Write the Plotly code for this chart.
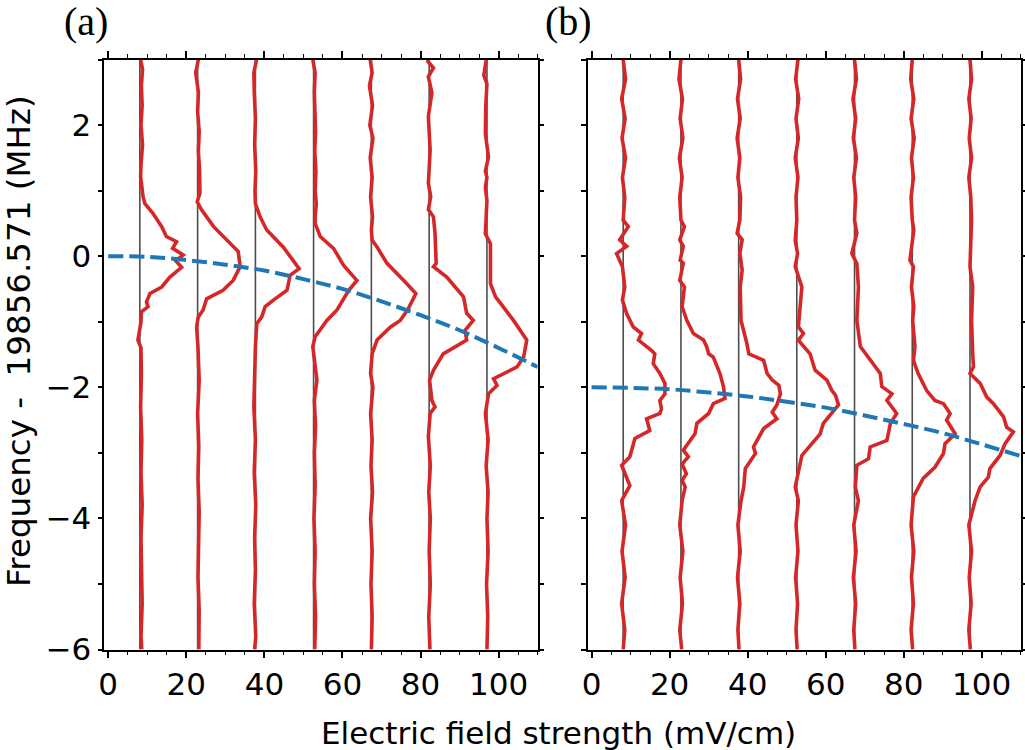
import plotly.graph_objects as go

# ---------------- data ----------------
field_offsets = [8.1, 22.9, 37.7, 52.6, 67.4, 82.2, 97.0]   # mV/cm (baselines of the spectra)

# Panel (a): spectra as (frequency, horizontal deflection) pairs
a1_f = [3.0, 2.85, 2.6, 2.3, 2.0, 1.7, 1.4, 1.21, 0.9, 0.80, 0.65, 0.45, 0.30, 0.22, 0.12, 0.02, -0.07, -0.17, -0.32, -0.47, -0.57, -0.70, -0.77, -0.85, -1.0, -1.28, -1.4, -1.8, -2.3, -2.8, -3.3, -3.8, -4.3, -4.8, -5.3, -5.8, -6.0]
a1_x = [0.2, 0.7, 0.4, 0.6, 0.3, 0.7, 0.3, 0.2, 0.85, 1.3, 3.4, 5.6, 6.8, 9.4, 8.4, 11.1, 9.2, 10.7, 7.7, 5.6, 2.6, 1.7, 2.1, 0.4, 0.3, -0.5, 0.3, 0.4, 0.2, 0.5, 0.3, 0.6, 0.3, 0.4, 0.6, 0.3, 0.5]
a2_f = [3.0, 2.8, 2.5, 2.2, 1.9, 1.6, 1.3, 0.96, 0.83, 0.70, 0.45, 0.24, 0.07, -0.16, -0.37, -0.52, -0.65, -0.82, -0.93, -1.08, -1.4, -1.9, -2.4, -2.9, -3.4, -3.9, -4.4, -4.9, -5.4, -5.9, -6.0]
a2_x = [0.2, -0.5, 0.2, 0.0, 0.4, 0.2, 0.5, 0.6, -0.1, 1.1, 4.1, 7.5, 10.4, 10.9, 9.1, 6.5, 2.3, 1.4, 0.15, -0.25, 0.1, 0.4, 0.0, 0.3, 0.1, 0.4, 0.2, 0.1, 0.4, 0.2, 0.3]
a3_f = [3.0, 2.8, 2.5, 2.1, 1.7, 1.3, 1.0, 0.80, 0.60, 0.40, 0.14, -0.19, -0.29, -0.52, -0.67, -0.77, -0.93, -1.03, -1.38, -1.8, -2.3, -2.8, -3.3, -3.8, -4.3, -4.8, -5.3, -5.8, -6.0]
a3_x = [0.3, -0.4, -0.3, 0.0, -0.2, 0.1, -0.1, 0.0, 1.2, 2.9, 7.1, 11.2, 8.9, 8.1, 4.6, 2.5, 1.6, 0.35, 0.0, -0.2, -0.4, 0.0, -0.3, 0.1, -0.2, 0.0, -0.3, 0.1, -0.2]
a4_f = [3.0, 2.8, 2.5, 2.2, 1.9, 1.6, 1.3, 1.0, 0.8, 0.60, 0.50, 0.30, 0.12, -0.14, -0.37, -0.52, -0.82, -0.98, -1.23, -1.38, -1.6, -1.89, -2.2, -2.6, -3.0, -3.5, -4.0, -4.5, -5.0, -5.5, -6.0]
a4_x = [-0.2, 0.4, 0.2, 0.3, 0.5, 0.3, 0.6, 0.4, 0.7, 0.4, 0.4, 1.7, 5.1, 7.7, 11.1, 9.0, 6.0, 3.4, 0.4, -0.2, 0.3, 0.85, 0.2, 0.5, 0.2, 0.4, 0.1, 0.4, 0.2, 0.5, 0.3]
a5_f = [3.0, 2.8, 2.6, 2.3, 2.0, 1.8, 1.5, 1.2, 0.9, 0.6, 0.4, 0.24, 0.14, -0.11, -0.37, -0.57, -0.82, -0.98, -1.08, -1.28, -1.49, -1.79, -2.0, -2.4, -2.8, -3.2, -3.6, -4.0, -4.5, -5.0, -5.5, -6.0]
a5_x = [-0.3, 0.2, -0.5, 0.3, -0.4, 0.4, -0.3, 0.2, -0.2, 0.3, 0.0, 0.2, 1.45, 4.0, 8.3, 11.4, 9.3, 7.4, 4.9, 1.45, 0.2, -0.2, 0.4, -0.2, 0.2, -0.1, 0.3, -0.2, 0.2, -0.1, 0.2, 0.0]
a6_f = [2.99, 2.87, 2.74, 2.49, 2.13, 1.62, 1.11, 0.91, 0.71, 0.60, 0.35, -0.11, -0.16, -0.32, -0.62, -0.87, -0.98, -1.13, -1.28, -1.49, -1.74, -1.89, -2.2, -2.3, -2.4, -2.75, -3.2, -3.6, -4.0, -4.5, -5.0, -5.5, -6.0]
a6_x = [-0.6, 1.1, -0.2, 0.7, -0.2, 0.25, -0.2, 0.4, -0.2, 1.1, 1.5, 1.8, 1.1, 4.5, 8.8, 9.6, 11.3, 9.2, 9.6, 3.6, 1.1, 0.1, 0.7, 1.5, 0.25, -0.2, 0.3, -0.1, 0.3, 0.0, 0.3, -0.1, 0.2]
a7_f = [2.99, 2.76, 2.63, 2.3, 1.87, 1.51, 1.30, 1.2, 1.05, 0.85, 0.34, 0.19, -0.42, -0.62, -0.72, -0.98, -1.28, -1.54, -1.69, -1.84, -1.87, -1.97, -2.10, -2.40, -2.8, -3.2, -3.6, -4.0, -4.5, -5.0, -5.5, -6.0]
a7_x = [-0.2, -0.8, 0.0, -0.3, -0.4, 0.4, -0.4, 0.0, -0.4, 0.0, -0.4, 0.9, 0.9, 2.2, 3.5, 6.8, 10.2, 9.4, 7.7, 2.6, 1.7, 2.6, 0.4, -0.4, 0.3, -0.2, 0.3, 0.0, 0.3, -0.1, 0.2, 0.0]

# Panel (b)
b1_f = [3.0, 2.7, 2.4, 2.1, 1.8, 1.5, 1.2, 0.9, 0.55, 0.45, 0.25, 0.15, 0.04, -0.16, -0.47, -0.67, -0.88, -1.08, -1.18, -1.28, -1.44, -1.49, -1.64, -1.79, -1.94, -2.10, -2.20, -2.33, -2.40, -2.48, -2.66, -2.78, -3.06, -3.19, -3.50, -3.73, -4.1, -4.5, -4.9, -5.3, -5.7, -6.0]
b1_x = [0.0, 0.6, -0.4, 0.5, -0.3, 0.6, -0.2, 0.4, 0.0, 1.3, -0.9, 0.9, -1.7, -0.2, 0.4, -0.2, 0.9, 2.6, 4.7, 3.9, 7.3, 8.1, 7.7, 9.4, 10.7, 10.7, 9.4, 9.8, 9.4, 6.0, 6.8, 3.0, 1.7, -0.4, 1.7, -0.4, 0.6, -0.3, 0.5, -0.4, 0.4, 0.0]
b2_f = [3.0, 2.7, 2.4, 2.1, 1.8, 1.5, 1.2, 0.9, 0.55, 0.45, 0.25, 0.15, -0.06, -0.11, -0.37, -0.47, -0.77, -0.98, -1.18, -1.28, -1.38, -1.49, -1.54, -1.69, -1.79, -1.99, -2.17, -2.25, -2.40, -2.55, -2.71, -2.96, -3.06, -3.17, -3.32, -3.42, -3.52, -3.73, -4.1, -4.5, -4.9, -5.3, -5.7, -6.0]
b2_x = [0.0, -0.5, 0.4, -0.2, 0.5, -0.4, 0.3, -0.3, 0.0, 0.9, -0.3, 0.6, -0.2, 0.6, -0.3, 0.9, 0.3, 1.5, 3.2, 5.8, 6.6, 7.1, 8.3, 9.2, 10.0, 10.9, 11.3, 8.3, 7.1, 4.1, 3.6, 0.6, 1.9, 0.3, 1.4, 0.3, 1.1, 0.3, -0.3, 0.5, -0.2, 0.4, -0.3, 0.2]
b3_f = [3.0, 2.7, 2.4, 2.1, 1.8, 1.5, 1.2, 0.9, 0.55, 0.35, 0.25, 0.04, -0.21, -0.47, -0.98, -1.13, -1.33, -1.49, -1.59, -1.79, -1.89, -1.97, -2.10, -2.27, -2.38, -2.48, -2.63, -2.91, -3.01, -3.24, -3.52, -3.73, -4.1, -4.5, -4.9, -5.3, -5.7, -6.0]
b3_x = [0.0, 0.5, -0.3, 0.4, -0.4, 0.3, -0.2, 0.5, 0.3, -0.4, 0.9, 0.3, 0.9, 0.4, 0.6, 1.3, 2.1, 2.6, 6.4, 7.3, 8.6, 10.3, 10.7, 9.8, 8.6, 9.8, 6.4, 3.8, 4.3, 1.7, 1.3, 0.6, -0.2, 0.4, -0.3, 0.3, -0.2, 0.1]
b4_f = [3.0, 2.7, 2.4, 2.1, 1.8, 1.5, 1.2, 0.9, 0.55, 0.24, 0.04, -0.16, -0.47, -1.08, -1.18, -1.28, -1.49, -1.74, -1.89, -2.05, -2.12, -2.27, -2.55, -2.71, -3.04, -3.32, -3.52, -3.73, -4.1, -4.5, -4.9, -5.3, -5.7, -6.0]
b4_x = [0.3, -0.3, 0.5, -0.2, 0.4, -0.4, 0.3, -0.2, 0.0, -0.4, 0.2, -0.4, 1.3, 0.4, 1.7, 0.4, 3.4, 4.7, 7.7, 9.0, 9.9, 10.7, 6.8, 6.0, 1.3, 0.4, -0.4, 0.4, -0.2, 0.3, -0.3, 0.2, -0.2, 0.1]
b5_f = [3.0, 2.7, 2.4, 2.1, 1.8, 1.5, 1.2, 0.9, 0.55, 0.35, 0.04, -0.11, -0.47, -0.98, -1.38, -1.59, -1.79, -1.99, -2.10, -2.20, -2.40, -2.55, -2.81, -2.91, -3.09, -3.19, -3.52, -3.73, -4.1, -4.5, -4.9, -5.3, -5.7, -6.0]
b5_x = [0.0, 0.5, -0.4, 0.3, -0.3, 0.5, -0.2, 0.3, 0.0, 0.6, -0.7, 0.6, 1.0, 0.6, 1.5, 4.0, 6.6, 7.0, 9.6, 8.3, 10.8, 9.2, 8.3, 4.0, 3.6, 0.6, 0.2, 1.0, -0.2, 0.4, -0.3, 0.3, -0.2, 0.1]
b6_f = [3.0, 2.7, 2.4, 2.1, 1.8, 1.5, 1.2, 0.9, 0.55, 0.40, -0.06, -0.16, -0.47, -0.77, -0.98, -1.38, -1.59, -1.79, -2.05, -2.20, -2.25, -2.40, -2.50, -2.71, -2.86, -3.01, -3.22, -3.39, -3.67, -4.1, -4.5, -4.9, -5.3, -5.7, -6.0]
b6_x = [0.0, -0.4, 0.4, -0.3, 0.5, -0.2, 0.3, -0.3, 0.0, 0.4, -0.6, 0.3, -0.2, 0.4, 0.1, 0.7, 0.3, 1.5, 3.7, 5.8, 8.0, 9.7, 8.8, 11.0, 8.4, 8.0, 5.8, 2.8, 0.3, -0.3, 0.4, -0.2, 0.3, -0.3, 0.1]
b7_f = [3.0, 2.7, 2.4, 2.1, 1.8, 1.5, 1.2, 0.9, 0.55, -0.16, -0.47, -0.98, -1.49, -1.69, -1.79, -1.94, -2.15, -2.25, -2.35, -2.45, -2.61, -2.68, -2.86, -3.04, -3.24, -3.37, -3.52, -3.73, -4.1, -4.5, -4.9, -5.3, -5.7, -6.0]
b7_x = [0.0, 0.4, -0.3, 0.3, -0.2, 0.4, -0.3, 0.2, 0.4, 0.0, 0.7, 0.4, 0.7, 0.9, 0.0, 2.6, 4.3, 6.0, 7.3, 8.6, 9.4, 11.1, 9.0, 7.7, 5.1, 4.7, 2.6, 1.3, -0.3, 0.4, -0.2, 0.3, -0.3, 0.1]

# Fitted (quadratic Stark) curves, every 10 mV/cm
fit_field = [0, 10, 20, 30, 40, 50, 60, 70, 80, 90, 100, 110]
fit_a = [0.0, -0.01, -0.06, -0.13, -0.22, -0.35, -0.50, -0.69, -0.90, -1.13, -1.40, -1.69]
fit_b = [-2.00, -2.01, -2.03, -2.08, -2.14, -2.22, -2.31, -2.43, -2.56, -2.70, -2.87, -3.05]

panel_a = [(a1_f, a1_x), (a2_f, a2_x), (a3_f, a3_x), (a4_f, a4_x), (a5_f, a5_x), (a6_f, a6_x), (a7_f, a7_x)]
panel_b = [(b1_f, b1_x), (b2_f, b2_x), (b3_f, b3_x), (b4_f, b4_x), (b5_f, b5_x), (b6_f, b6_x), (b7_f, b7_x)]

y_range = [-6, 3]
x_range = [-1, 110]

# ---------------- figure ----------------
RED = "#d62728"
BLUE = "#1f77b4"
GRAY = "#4d4d4d"
FONT = "DejaVu Sans"

fig = go.Figure()

for col, (spectra, fit) in enumerate([(panel_a, fit_a), (panel_b, fit_b)]):
    xa = "x" if col == 0 else "x2"
    ya = "y" if col == 0 else "y2"
    for off in field_offsets:
        fig.add_trace(go.Scatter(x=[off, off], y=y_range, mode="lines",
                                 line=dict(color=GRAY, width=1.6),
                                 xaxis=xa, yaxis=ya, showlegend=False, hoverinfo="skip"))
    for off, (fr, dx) in zip(field_offsets, spectra):
        fig.add_trace(go.Scatter(x=[off + d for d in dx], y=fr, mode="lines",
                                 line=dict(color=RED, width=3.6),
                                 xaxis=xa, yaxis=ya, showlegend=False))
    fig.add_trace(go.Scatter(x=fit_field, y=fit, mode="lines",
                             line=dict(color=BLUE, width=4, dash="15px,6px", shape="spline"),
                             xaxis=xa, yaxis=ya, showlegend=False))

W, H = 1025, 750
xd_a = [104.3 / W, 537.7 / W]
xd_b = [587.7 / W, 1020.7 / W]
yd = [1 - 649.5 / H, 1 - 59.5 / H]

xaxis_common = dict(range=x_range, tickmode="array", tickvals=[0, 20, 40, 60, 80, 100],
                    ticks="outside", ticklen=7, tickwidth=1.5, tickcolor="black",
                    showline=True, linecolor="black", linewidth=1.5, mirror="allticks",
                    showgrid=False, zeroline=False, automargin=False,
                    tickfont=dict(family=FONT, size=31, color="black"),
                    minor=dict(dtick=5, tick0=0, ticks="outside", ticklen=4, tickwidth=1.2,
                               tickcolor="black", showgrid=False))
yaxis_common = dict(range=y_range, tickmode="array", tickvals=[-6, -4, -2, 0, 2],
                    ticks="outside", ticklen=5, tickwidth=1.5, tickcolor="black",
                    showline=True, linecolor="black", linewidth=1.5, mirror="allticks",
                    showgrid=False, zeroline=False, automargin=False,
                    tickfont=dict(family=FONT, size=31, color="black"),
                    minor=dict(dtick=1, tick0=0, ticks="outside", ticklen=5, tickwidth=1.5,
                               tickcolor="black", showgrid=False))

fig.update_layout(
    template="none",
    width=W, height=H,
    margin=dict(l=0, r=0, t=0, b=0, autoexpand=False),
    paper_bgcolor="white", plot_bgcolor="white",
    xaxis=dict(domain=xd_a, anchor="y", **xaxis_common),
    yaxis=dict(domain=yd, anchor="x", **yaxis_common),
    xaxis2=dict(domain=xd_b, anchor="y2", **xaxis_common),
    yaxis2=dict(domain=yd, anchor="x2", showticklabels=False, **yaxis_common),
    annotations=[
        dict(text="Frequency -\u00a0 19856.571 (MHz)", x=19 / W, y=1 - 341 / H,
             xref="paper", yref="paper", showarrow=False, textangle=-90,
             xanchor="center", yanchor="middle",
             font=dict(family=FONT, size=32.5, color="black")),
        dict(text="Electric field strength (mV/cm)", x=558 / W, y=1 - 733 / H,
             xref="paper", yref="paper", showarrow=False, xanchor="center", yanchor="middle",
             font=dict(family=FONT, size=31, color="black")),
        dict(text="(a)", x=86 / W, y=1 - 21 / H, xref="paper", yref="paper",
             showarrow=False, xanchor="center", yanchor="middle",
             font=dict(family="Liberation Serif", size=40, color="black")),
        dict(text="(b)", x=568 / W, y=1 - 21 / H, xref="paper", yref="paper",
             showarrow=False, xanchor="center", yanchor="middle",
             font=dict(family="Liberation Serif", size=40, color="black")),
    ],
)

fig.write_html("out.html")
